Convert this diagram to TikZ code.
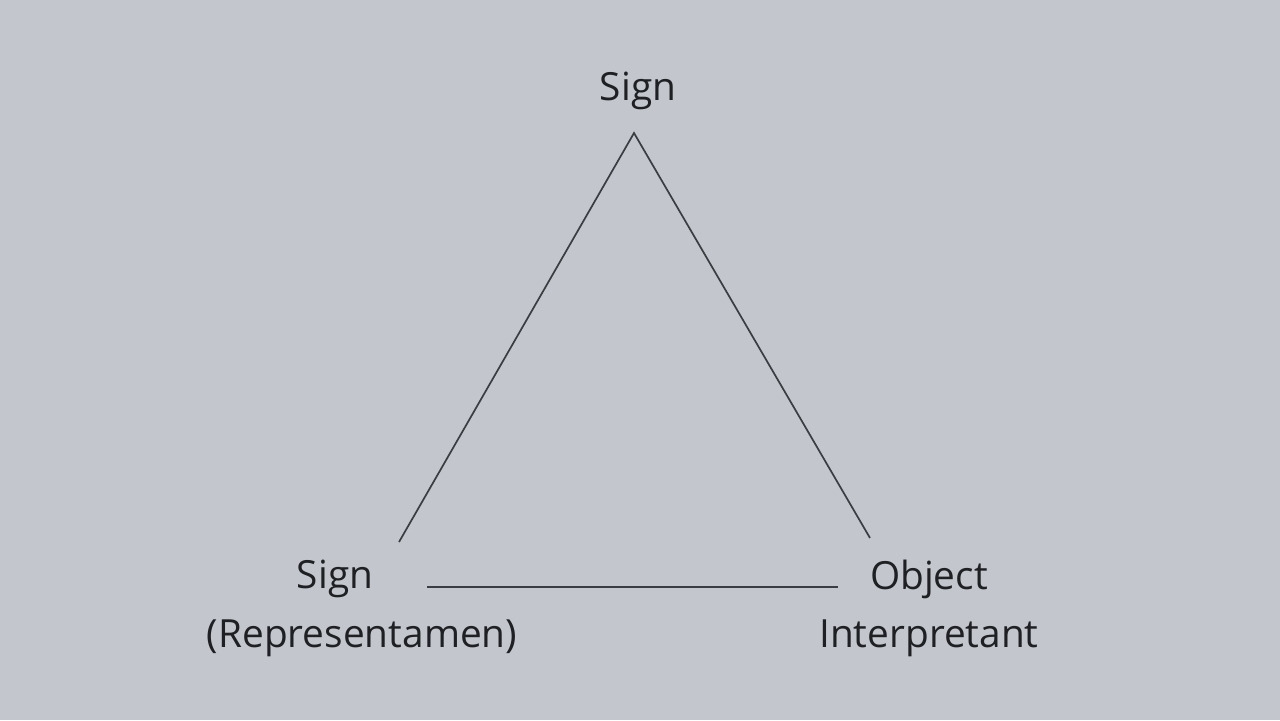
\documentclass[tikz,border=0pt]{standalone}
\usepackage{fontspec}
\setmainfont{Open Sans}
\usepackage{tikz}
\definecolor{bgcol}{HTML}{C3C7CD}
\definecolor{linecol}{HTML}{3A3D42}
\definecolor{textcol}{HTML}{1E2024}
\tikzset{
    label/.style={text=textcol,font=\fontsize{19.4}{23}\selectfont,inner sep=0pt},
    side/.style={draw=linecol,line width=0.85pt},
}
\usetikzlibrary{positioning,backgrounds}

\begin{document}
\begin{tikzpicture}[x=0.5pt,y=-0.5pt]
\fill[bgcol] (0,0) rectangle (1280,720);
\node[label] (Top) at (638,91) {Sign};
\node[label] (Rep) at (335,579) {Sign};
\node[label] (RepB) at (362,638) {(Representamen)};
\node[label] (Obj) at (929,579) {Object};
\node[label] (Int) at (929,638) {Interpretant};
\coordinate (apex) at (634,133);
\coordinate (leftEnd) at (399,542);
\coordinate (rightEnd) at (870,538);
\coordinate (baseL) at (427,587);
\coordinate (baseR) at (838,587);
\draw[side] (leftEnd) -- (apex) -- (rightEnd);
\draw[side] (baseL) -- (baseR);
\end{tikzpicture}
\end{document}
